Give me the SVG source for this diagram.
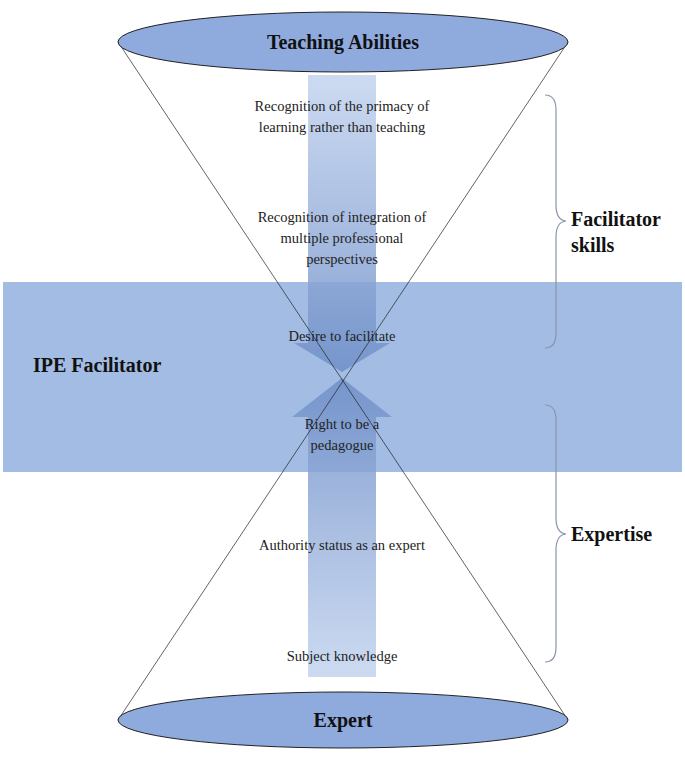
<svg xmlns="http://www.w3.org/2000/svg" width="685" height="763" viewBox="0 0 685 763">
<style>
.t{font-family:"Liberation Serif",serif;font-size:14.5px;fill:#222;text-anchor:middle}
.b{font-family:"Liberation Serif",serif;font-weight:bold;font-size:20px;fill:#111}
.ln{stroke:#222;stroke-width:1;fill:none}
.br{stroke:#8a93b0;stroke-width:1.2;fill:none}
</style>
<defs>
<linearGradient id="gd" x1="0" y1="0" x2="0" y2="1"><stop offset="0" stop-color="#c4d4ef"/><stop offset="1" stop-color="#6f8fc8"/></linearGradient>
<linearGradient id="gu" x1="0" y1="1" x2="0" y2="0"><stop offset="0" stop-color="#c4d4ef"/><stop offset="1" stop-color="#6f8fc8"/></linearGradient>
</defs>
<g id="band"><rect x="3" y="282" width="679" height="190" fill="#a3bce4"/></g>
<g id="arrows" opacity="0.85">
<path d="M308,75 H376 V343 H390 L342,372 L294,343 H308 Z" fill="url(#gd)"/>
<path d="M342,378 L392,417 H376 V677 H308 V417 H292 Z" fill="url(#gu)"/>
</g>
<g id="connectors">
<line class="ln" x1="118" y1="42" x2="568" y2="720" stroke-opacity="0.7"/>
<line class="ln" x1="568" y1="42" x2="118" y2="720" stroke-opacity="0.7"/>
<path class="br" d="M545,95 Q556,95 556,110 V205 Q556,220 566,221 Q556,222 556,237 V333 Q556,348 545,348"/>
<path class="br" d="M545,405 Q556,405 556,420 V518 Q556,533 566,534 Q556,535 556,550 V647 Q556,662 545,662"/>
</g>
<g id="top"><ellipse cx="343" cy="42" rx="225" ry="30" fill="#8faadc" stroke="#222"/><text class="b" x="343" y="49" text-anchor="middle">Teaching Abilities</text></g>
<g id="bottom"><ellipse cx="343" cy="720" rx="225" ry="28" fill="#8faadc" stroke="#222"/><text class="b" x="343" y="727" text-anchor="middle">Expert</text></g>
<g id="labels">
<text class="t" x="342" y="111">Recognition of the primacy of</text>
<text class="t" x="342" y="132">learning rather than teaching</text>
<text class="t" x="342" y="222">Recognition of integration of</text>
<text class="t" x="342" y="243">multiple professional</text>
<text class="t" x="342" y="264">perspectives</text>
<text class="t" x="342" y="341">Desire to facilitate</text>
<text class="t" x="342" y="429">Right to be a</text>
<text class="t" x="342" y="450">pedagogue</text>
<text class="t" x="342" y="550">Authority status as an expert</text>
<text class="t" x="342" y="661">Subject knowledge</text>
</g>
<g id="side">
<text class="b" x="33" y="372">IPE Facilitator</text>
<text class="b" x="571" y="226">Facilitator</text>
<text class="b" x="571" y="252">skills</text>
<text class="b" x="571" y="541">Expertise</text>
</g>
</svg>
